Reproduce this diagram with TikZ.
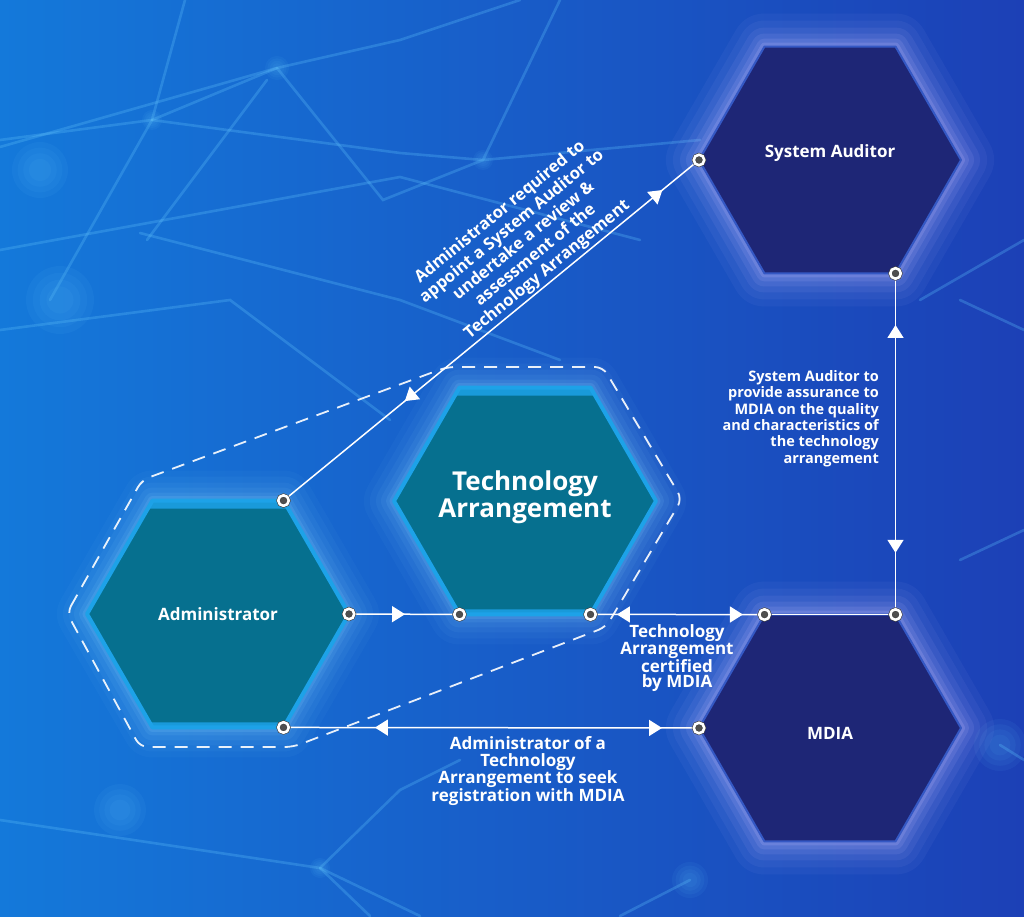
\documentclass[tikz,border=0pt]{standalone}
\usepackage{fontspec}
\setmainfont{Open Sans}
\usetikzlibrary{arrows.meta,decorations.markings,shapes.geometric,calc}

\definecolor{bgL}{HTML}{1479DA}
\definecolor{bgR}{HTML}{1C40B6}
\definecolor{netc}{HTML}{5CBEFA}
\definecolor{tealfill}{HTML}{06708F}
\definecolor{tealedge}{HTML}{1DA2E8}
\definecolor{navyfill}{HTML}{1E2676}
\definecolor{navyedge}{HTML}{3458C4}
\definecolor{glowT}{HTML}{8AD6FF}
\definecolor{glowN}{HTML}{C8BEFF}
\definecolor{dotgray}{HTML}{4F4F4F}

\tikzset{
  hexbase/.style={regular polygon, regular polygon sides=6, minimum size=262pt,
    inner sep=0pt, outer sep=0pt, line join=round},
  hexT/.style={hexbase,
    preaction={draw=glowT, line width=60pt, opacity=0.04, line join=round},
    preaction={draw=glowT, line width=48pt, opacity=0.05, line join=round},
    preaction={draw=glowT, line width=36pt, opacity=0.06, line join=round},
    preaction={draw=glowT, line width=26pt, opacity=0.07, line join=round},
    preaction={draw=glowT, line width=16pt, opacity=0.10, line join=round},
    preaction={draw=glowT, line width=9pt, opacity=0.14, line join=round},
    fill=tealfill, draw=tealedge, line width=4pt},
  hexN/.style={hexbase,
    preaction={draw=glowN, line width=66pt, opacity=0.05, line join=round},
    preaction={draw=glowN, line width=52pt, opacity=0.06, line join=round},
    preaction={draw=glowN, line width=38pt, opacity=0.08, line join=round},
    preaction={draw=glowN, line width=26pt, opacity=0.10, line join=round},
    preaction={draw=glowN, line width=16pt, opacity=0.13, line join=round},
    preaction={draw=glowN, line width=8pt, opacity=0.18, line join=round},
    fill=navyfill, draw=navyedge, line width=2pt},
  bevel/.style={fill=tealedge, opacity=0.85},
  hexlbl/.style={text=white, font=\bfseries\fontsize{17}{20}\selectfont, align=center, inner sep=0pt},
  dot/.style={circle, inner sep=0pt, minimum size=10.5pt, fill=dotgray, draw=black!75,
    double=white, double distance=2.6pt, line width=0.6pt},
  conn/.style={white, line width=1.5pt},
  lbl/.style={text=white, align=center, inner sep=0pt},
  net/.style={draw=netc, line width=2.6pt, opacity=0.30, line cap=round},
  blob/.style={fill=netc, opacity=0.07},
  fwd/.style={postaction={decorate, decoration={markings,
     mark=at position #1 with {\arrow{Triangle[length=13pt,width=16pt]}}}}},
  bwd/.style={postaction={decorate, decoration={markings,
     mark=at position #1 with {\arrowreversed{Triangle[length=13pt,width=16pt]}}}}},
}
\newcommand\fuzzyblob[2]{%
  \foreach \k in {1.0,0.8,0.6,0.4} {\fill[blob] #1 circle ({#2*\k});}}

\begin{document}
\begin{tikzpicture}[x=1pt,y=1pt]
\useasboundingbox (0,0) rectangle (1024,916);
% background
\fill[left color=bgL, right color=bgR] (0,0) rectangle (1024,916);

% network (image coordinates)
\begin{scope}[yshift=916pt, yscale=-1]
  \draw[net] (0,147) -- (277,68);
  \draw[net] (0,140) -- (152,120) -- (277,68) -- (400,40) -- (520,0);
  \draw[net] (152,120) -- (400,153) -- (483,160) -- (700,140);
  \draw[net] (152,120) -- (50,300);
  \draw[net] (152,120) -- (185,0);
  \draw[net] (277,68) -- (383,200) -- (483,160) -- (560,0);
  \draw[net] (0,250) -- (400,177) -- (640,240);
  \draw[net] (140,233) -- (400,300) -- (560,360);
  \draw[net] (147,240) -- (267,80);
  \draw[net] (0,330) -- (230,300) -- (390,420);
  \draw[net] (920,300) -- (1024,240);
  \draw[net] (960,560) -- (1024,530);
  \draw[net] (1024,330) -- (960,300);
  \draw[net] (0,820) -- (320,868) -- (400,790) -- (460,760);
  \draw[net] (320,868) -- (420,916);
  \draw[net] (320,868) -- (370,916);
  \draw[net] (690,880) -- (620,916);
  \draw[net] (1000,745) -- (1024,760);
  \fuzzyblob{(152,120)}{10}
  \fuzzyblob{(277,68)}{12}
  \fuzzyblob{(483,160)}{10}
  \fuzzyblob{(60,300)}{34}
  \fuzzyblob{(120,810)}{26}
  \fuzzyblob{(320,868)}{10}
  \fuzzyblob{(690,880)}{18}
  \fuzzyblob{(1000,745)}{26}
  \fuzzyblob{(40,170)}{28}
\end{scope}

% hexagons
\node[hexT] (adm) at (218,302) {};
\node[hexT] (ta) at (525,415) {};
\node[hexN] (sa) at (830,756) {};
\node[hexN] (mdia) at (830,188) {};

% bevel bands on the teal hexagons
\foreach \c in {adm,ta} {
  \fill[bevel] ($(\c.center)+(-65.5,113.4)$) -- ($(\c.center)+(65.5,113.4)$)
    -- ($(\c.center)+(70.1,105.4)$) -- ($(\c.center)+(-70.1,105.4)$) -- cycle;
  \fill[bevel] ($(\c.center)+(-65.5,-113.4)$) -- ($(\c.center)+(65.5,-113.4)$)
    -- ($(\c.center)+(68.4,-108.4)$) -- ($(\c.center)+(-68.4,-108.4)$) -- cycle;
}

% dashed grouping outline
\draw[white, opacity=0.9, line width=1.8pt, dash pattern=on 13pt off 9pt, rounded corners=8pt]
  (67,303) -- (142,436) -- (447,549) -- (603,549) -- (682,417) -- (606,289)
  -- (293,169) -- (140,169) -- cycle;

% hexagon labels
\node[hexlbl] (admT) at (218,302) {Administrator};
\node[hexlbl, font=\bfseries\fontsize{26}{27}\selectfont] (taT) at (525,419) {Technology\\Arrangement};
\node[hexlbl] (saT) at (830,763) {System Auditor};
\node[hexlbl] (mdiaT) at (830,183) {MDIA};

% connection points
\coordinate (pAdmTR) at ($(218,302)+(60:131)$);
\coordinate (pAdmR) at ($(218,302)+(0:131)$);
\coordinate (pAdmBR) at ($(218,302)+(-60:131)$);
\coordinate (pTaBL) at ($(525,415)+(-120:131)$);
\coordinate (pTaBR) at ($(525,415)+(-60:131)$);
\coordinate (pSaL) at ($(830,756)+(180:131)$);
\coordinate (pSaBR) at ($(830,756)+(-60:131)$);
\coordinate (pMdL) at ($(830,188)+(180:131)$);
\coordinate (pMdTL) at ($(830,188)+(120:131)$);
\coordinate (pMdTR) at ($(830,188)+(60:131)$);

% connectors
\draw[conn, fwd=0.912, bwd=0.292] (pAdmTR) --
  node[lbl, sloped, pos=0.652, anchor=south, inner sep=2pt,
       font=\bfseries\fontsize{16.6}{18.6}\selectfont] (lblDiag)
  {Administrator required to\\appoint a System Auditor to\\undertake a review \&\\assessment of the\\Technology Arrangement}
  (pSaL);
\draw[conn, fwd=0.507] (pAdmR) -- (pTaBL);
\draw[conn, fwd=0.876, bwd=0.152] (pTaBR) -- (pMdTL);
\draw[conn] (pMdTL) -- (pMdTR);
\draw[conn, bwd=0.151, fwd=0.819] (pSaBR) -- (pMdTR);
\draw[conn, bwd=0.220, fwd=0.911] (pAdmBR) -- (pMdL);

% dots
\foreach \p in {pAdmTR,pAdmR,pAdmBR,pTaBL,pTaBR,pSaL,pSaBR,pMdL,pMdTL,pMdTR}
  \node[dot] (d\p) at (\p) {};

% labels
\node[lbl, align=right, anchor=north east, font=\bfseries\fontsize{14.5}{16.4}\selectfont] (lblSA) at (879,546)
  {System Auditor to\\provide assurance to\\MDIA on the quality\\and characteristics of\\the technology\\arrangement};
\node[lbl, anchor=north, font=\bfseries\fontsize{17}{15.5}\selectfont] (lblCert) at (677,292)
  {Technology\\Arrangement\\certified\\by MDIA};
\node[lbl, anchor=north, font=\bfseries\fontsize{17}{17.3}\selectfont] (lblReg) at (528,180)
  {Administrator of a\\Technology\\Arrangement to seek\\registration with MDIA};
\end{tikzpicture}
\end{document}
